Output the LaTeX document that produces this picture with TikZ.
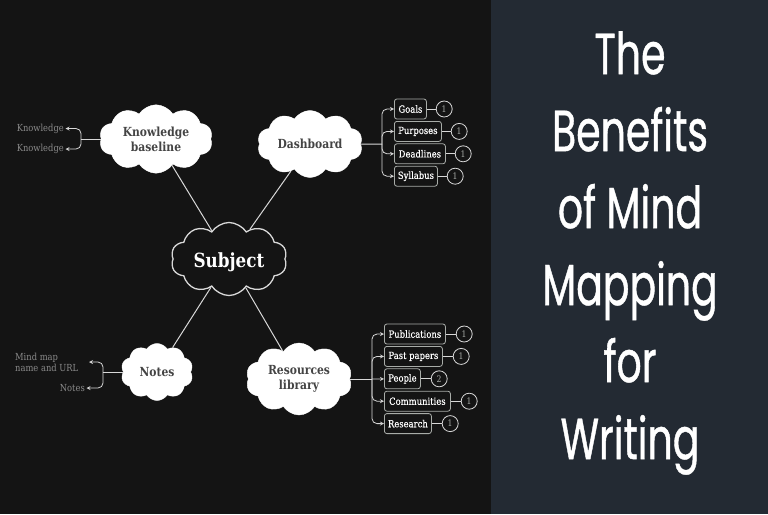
\documentclass[tikz,border=0pt]{standalone}
\usepackage{fontspec}
\usetikzlibrary{positioning,calc,shapes.symbols}
\newfontfamily\slabfont[FakeStretch=0.86]{DejaVu Serif}
\newfontfamily\smallfont[FakeStretch=0.86,FakeBold=0.35]{DejaVu Serif}
\newfontfamily\titlefont[FakeStretch=0.68,FakeBold=0.7]{Poppins}
\definecolor{pagebg}{HTML}{141414}
\definecolor{panelbg}{HTML}{232A33}
\definecolor{cloudtext}{HTML}{444444}
\definecolor{wirecol}{HTML}{D8D8D8}
\definecolor{boxcol}{HTML}{A8ACA8}
\definecolor{notecol}{HTML}{8A8A8A}

\begin{document}
\begin{tikzpicture}[
    x=1pt, y=-1pt,
    topic/.style={cloud, cloud puffs=10, cloud puff arc=115, aspect=1.7, draw=white, fill=white, inner sep=0pt,
        text=cloudtext, align=center, font=\slabfont\bfseries\fontsize{12.5}{15}\selectfont}, % Big white clouds
    subject/.style={topic, draw=wirecol, fill=pagebg, line width=1.3pt, text=white,
        font=\slabfont\bfseries\fontsize{19.5}{22}\selectfont}, % Central cloud
    itembox/.style={draw=boxcol, rounded corners=2.5pt, line width=0.8pt, minimum height=20pt, inner sep=0pt,
        text=white, font=\smallfont\fontsize{9.8}{11}\selectfont}, % Boxes on the right
    countdot/.style={circle, draw=wirecol, line width=0.8pt, minimum size=16pt, inner sep=0pt,
        text=boxcol, font=\slabfont\fontsize{9}{10}\selectfont}, % Numbers in circles
    note/.style={text=notecol, inner sep=1.5pt, align=left, font=\slabfont\fontsize{9.7}{11}\selectfont}, % Grey notes
    wire/.style={draw=wirecol, line width=1pt}, % Plain lines
    twig/.style={-stealth, draw=wirecol, line width=0.8pt, rounded corners=5pt} % Lines with arrows
    ]

    % Background
    \fill[pagebg] (0,0) rectangle (491,514);
    \fill[panelbg] (491,0) rectangle (768,514);
    \useasboundingbox (0,0) rectangle (768,514);

    % Clouds
    \node[subject, minimum width=116pt, minimum height=73pt] (Subject) at (229,259) {\raisebox{-8.5pt}[0pt][0pt]{Subject}};
    \node[topic, minimum width=113pt, minimum height=68pt] (Knowledge) at (156,139) {Knowledge\\baseline};
    \node[topic, minimum width=105pt, minimum height=60pt] (Dashboard) at (310,144) {Dashboard};
    \node[topic, minimum width=72pt, minimum height=57pt] (NotesCloud) at (157,372) {Notes};
    \node[topic, minimum width=106pt, minimum height=72pt] (Resources) at (299,379) {Resources\\library};

    % Subject links
    \foreach \topic in {Knowledge,Dashboard,NotesCloud,Resources}
        \draw[wire] (Subject) -- (\topic);

    % Dashboard items
    \node[itembox, minimum width=32pt, anchor=west] (Goals) at (394,109) {Goals};
    \node[itembox, minimum width=47pt, below=1.6pt of Goals.south west, anchor=north west] (Purposes) {Purposes};
    \node[itembox, minimum width=51pt, below=1.6pt of Purposes.south west, anchor=north west] (Deadlines) {Deadlines};
    \node[itembox, minimum width=43pt, below=1.6pt of Deadlines.south west, anchor=north west] (Syllabus) {Syllabus};

    % Resources items
    \node[itembox, minimum width=61pt, anchor=west] (Publications) at (384,334) {Publications};
    \node[itembox, minimum width=58pt, below=1.6pt of Publications.south west, anchor=north west] (Papers) {Past papers};
    \node[itembox, minimum width=36pt, below=1.6pt of Papers.south west, anchor=north west] (People) {People};
    \node[itembox, minimum width=66pt, below=1.6pt of People.south west, anchor=north west] (Communities) {Communities};
    \node[itembox, minimum width=47pt, below=1.6pt of Communities.south west, anchor=north west] (Research) {Research};

    % Hubs
    \coordinate (dash_hub) at (382,144);
    \coordinate (res_hub) at (372,379);
    \draw[wire] (Dashboard.east) -- (dash_hub);
    \draw[wire] (Resources.east |- res_hub) -- (res_hub);

    % Item links and numbers
    \foreach \item/\num in {Goals/1,Purposes/1,Deadlines/1,Syllabus/1}{
        \draw[twig] (dash_hub) |- (\item);
        \node[countdot, right=9pt of \item] (\item_n) {\num};
        \draw[wire] (\item) -- (\item_n);
    }
    \foreach \item/\num in {Publications/1,Papers/1,Communities/1,Research/1}{
        \draw[twig] (res_hub) |- (\item);
        \node[countdot, right=10pt of \item] (\item_n) {\num};
        \draw[wire] (\item) -- (\item_n);
    }
    \draw[twig] (res_hub) -- (People);
    \node[countdot, right=10pt of People] (People_n) {2};
    \draw[wire] (People) -- (People_n);

    % Left notes
    \node[note, anchor=east] (know_a) at (65.5,128.5) {Knowledge};
    \node[note, anchor=east] (know_b) at (65.5,149) {Knowledge};
    \coordinate (know_hub) at (81,139);
    \draw[wire] (Knowledge.west |- know_hub) -- (know_hub);
    \draw[twig] (know_hub) |- (know_a);
    \draw[twig] (know_hub) |- (know_b);

    \node[note, anchor=west] (map_note) at (13.5,362.5) {Mind map\\name and URL};
    \node[note, anchor=east] (notes_note) at (86.5,388) {Notes};
    \coordinate (notes_hub) at (103,372);
    \coordinate (map_tip) at (89,362);
    \draw[wire] (NotesCloud.west |- notes_hub) -- (notes_hub);
    \draw[twig] (notes_hub) |- (map_tip);
    \draw[twig] (notes_hub) |- (notes_note);

    % Title
    \node[text=white, align=center, font=\titlefont\fontsize{58}{77}\selectfont] (title) at (630,253)
        {The\\Benefits\\of Mind\\Mapping\\for\\Writing};

\end{tikzpicture}
\end{document}
